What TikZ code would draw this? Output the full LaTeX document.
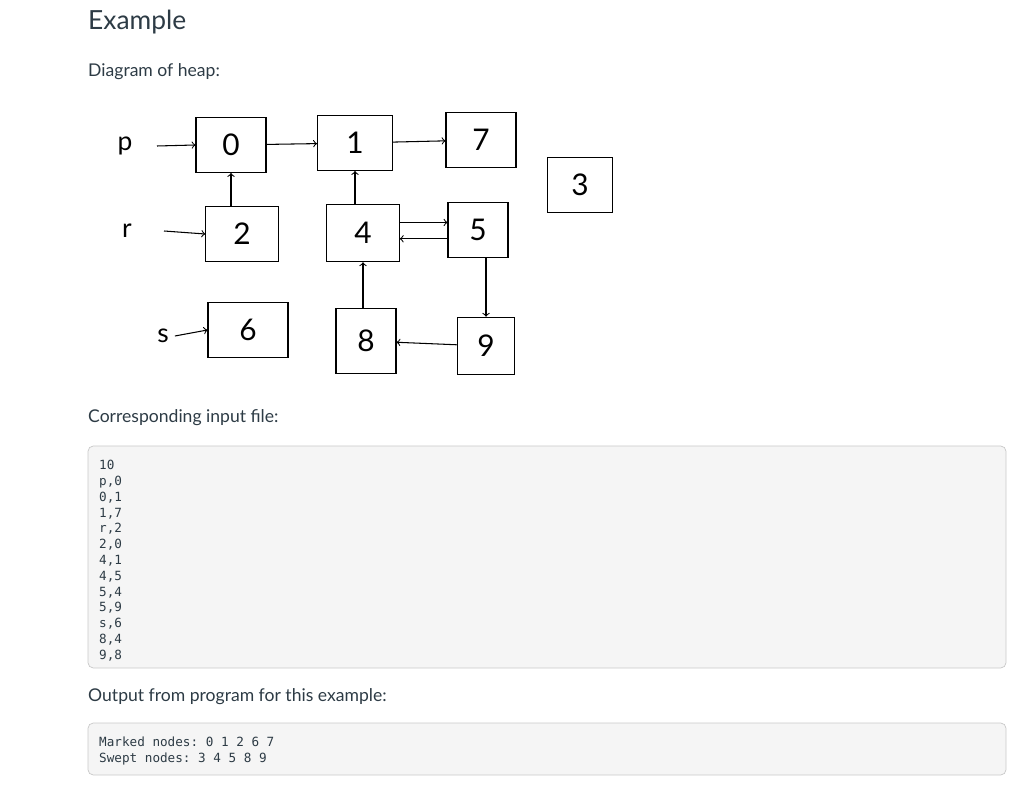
\documentclass[tikz,border=0pt]{standalone}
\usepackage{fontspec}
\setmainfont{Lato}
\setmonofont{DejaVu Sans Mono}
\usetikzlibrary{positioning}
\definecolor{codebg}{RGB}{245,245,245}
\definecolor{codeln}{RGB}{200,200,200}
\definecolor{txt}{RGB}{45,59,69}

\tikzset{
    cell/.style={draw, semithick, minimum width=1.4cm, minimum height=1.1cm, font=\fontsize{17}{17}\selectfont},
    ptr/.style={font=\fontsize{15}{15}\selectfont},
    link/.style={->, semithick},
    head/.style={anchor=west, text=txt},
    code/.style={anchor=north west, align=left, font=\ttfamily\fontsize{7.2}{9}\selectfont, text=txt},
    panel/.style={draw=codeln, fill=codebg, rounded corners=3pt}
}

\begin{document}
\begin{tikzpicture}[x=0.02cm, y=-0.02cm]
    \useasboundingbox (0,0) rectangle (1024,793);
    \node[head, font=\fontsize{15}{15}\selectfont] (title) at (82,22) {Example};
    \node[head, font=\fontsize{10}{10}\selectfont] (diag) at (82,72) {Diagram of heap:};
    % the heap cells
    \node[cell] (c0) at (231,145) {0};
    \node[cell, minimum width=1.5cm] (c1) at (355,143) {1};
    \node[cell] (c7) at (481,140) {7};
    \node[cell, minimum width=1.3cm] (c3) at (580,185) {3};
    \node[cell, minimum width=1.45cm] (c2) at (242,234) {2};
    \node[cell, minimum width=1.45cm, minimum height=1.15cm] (c4) at (363,233) {4};
    \node[cell, minimum width=1.2cm] (c5) at (478,230) {5};
    \node[cell, minimum width=1.6cm] (c6) at (248,330) {6};
    \node[cell, minimum width=1.2cm, minimum height=1.3cm] (c8) at (366,341) {8};
    \node[cell, minimum width=1.15cm, minimum height=1.15cm] (c9) at (486,346) {9};
    \node[ptr] (p) at (125,146) {p};
    \node[ptr] (r) at (127,231) {r};
    \node[ptr] (s) at (163,336) {s};
    % the pointers
    \draw[link] (p) ++(32,0) -- (c0.west);
    \draw[link] (r) ++(37,0) -- (c2.west);
    \draw[link] (s.east) -- (c6.west);
    \draw[link] (c0) -- (c1);
    \draw[link] (c1) -- (c7);
    \draw[link] (c2.north -| c0) -- (c0.south);
    \draw[link] (c4.north -| c1) -- (c1.south);
    \draw[link] ([yshift=-5]c5.west) -- ([yshift=-5]c5.west -| c4.east);
    \draw[link] ([yshift=6]c4.east) -- ([yshift=6]c4.east -| c5.west);
    \draw[link] (c5.south -| c9) -- (c9.north);
    \draw[link] (c9) -- (c8);
    \draw[link] (c8.north -| c4) -- (c4.south);
    % the input file
    \node[head, font=\fontsize{10}{10}\selectfont] (inlbl) at (82,418) {Corresponding input file:};
    \draw[panel] (88,446) rectangle (1006,668);
    \node[code] (infile) at (93,454) {10\\p,0\\0,1\\1,7\\r,2\\2,0\\4,1\\4,5\\5,4\\5,9\\s,6\\8,4\\9,8};
    % the output
    \node[head, font=\fontsize{10}{10}\selectfont] (outlbl) at (82,697) {Output from program for this example:};
    \draw[panel] (88,723) rectangle (1006,775);
    \node[code] (outfile) at (93,731) {Marked nodes: 0 1 2 6 7\\Swept nodes: 3 4 5 8 9};
\end{tikzpicture}
\end{document}
